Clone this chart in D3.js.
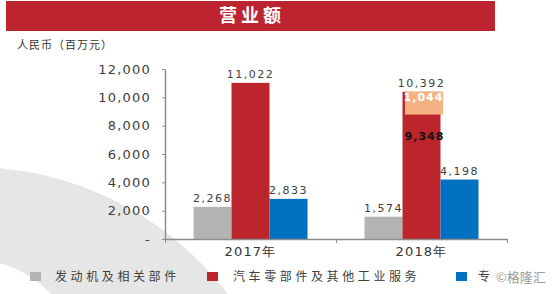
<!DOCTYPE html>
<html><head><meta charset="utf-8">
<script src="https://cdn.jsdelivr.net/npm/d3@7"></script>
<style>body{margin:0;background:#fff}svg{display:block}</style>
</head><body>
<script>
const categories = ["2017年", "2018年"];
const seriesNames = ["发动机及相关部件", "汽车零部件及其他工业服务", "专"];
const engineParts = [2268, 1574];
const autoParts = [11022, 10392];
const specialVehicles = [2833, 4198];
const autoParts2018Split = [9348, 1044];
const yTicks = [0, 2000, 4000, 6000, 8000, 10000, 12000];
const title = "营业额";
const unitLabel = "人民币（百万元）";
const watermark = "©格隆汇";
const colors = ["#b3b3b3", "#bd252d", "#0070c0"];
const overlayColor = "#f4b183";

const W = 554, H = 294;
const svg = d3.select("body").append("svg").attr("width", W).attr("height", H);
const numFont = "DejaVu Sans, Liberation Sans, sans-serif";
const cjkFont = "Noto Sans CJK SC, sans-serif";

// background crescent
const bg = d3.path();
bg.arc(-29, 490, 323, 0, 2 * Math.PI);
bg.moveTo(-30 + 111, 370);
bg.arc(-30, 370, 111, 0, 2 * Math.PI);
svg.append("path").attr("d", bg.toString()).attr("fill", "#e6e6e6").attr("fill-rule", "evenodd");

// title bar
svg.append("rect").attr("x", 6).attr("y", 1).attr("width", 489).attr("height", 30).attr("fill", "#bc2530");
svg.append("text").attr("x", 252).attr("y", 22).attr("text-anchor", "middle")
  .attr("fill", "#fff").attr("font-family", cjkFont).attr("font-weight", "bold")
  .attr("font-size", 18).attr("letter-spacing", 4).text(title);

svg.append("text").attr("x", 17).attr("y", 49).attr("fill", "#333")
  .attr("font-family", cjkFont).attr("font-size", 11).attr("letter-spacing", 1).text(unitLabel);

// scales
const x0 = d3.scaleBand().domain(categories).range([165, 507]).padding(0);
const bw = x0.bandwidth();
const x1 = d3.scaleBand().domain(seriesNames).range([bw / 6, bw * 5 / 6]).padding(0);
const y = d3.scaleLinear().domain([0, 12000]).range([239, 69]);

const series = [engineParts, autoParts, specialVehicles];
const fmt = d3.format(",");

// bars
series.forEach((vals, si) => {
  svg.append("g").selectAll("rect").data(vals).join("rect")
    .attr("x", (d, i) => x0(categories[i]) + x1(seriesNames[si]))
    .attr("y", d => y(d))
    .attr("width", x1.bandwidth())
    .attr("height", d => y(0) - y(d))
    .attr("fill", colors[si]);
  svg.append("g").selectAll("text").data(vals).join("text")
    .attr("x", (d, i) => x0(categories[i]) + x1(seriesNames[si]) + x1.bandwidth() / 2)
    .attr("y", d => y(d) - 5)
    .attr("text-anchor", "middle").attr("fill", "#404040")
    .attr("font-family", numFont).attr("font-size", 11).attr("letter-spacing", 1.5)
    .text(d => fmt(d));
});

// 2018 split overlay
const c18 = categories[1];
const bx = x0(c18) + x1(seriesNames[1]);
const total18 = autoParts[1];
svg.append("rect")
  .attr("x", bx + 2.5).attr("y", y(total18))
  .attr("width", x1.bandwidth())
  .attr("height", y(autoParts2018Split[0]) - y(total18) + 8)
  .attr("fill", overlayColor);
svg.append("text").attr("x", bx + x1.bandwidth() / 2 + 2).attr("y", y(total18) + 9)
  .attr("text-anchor", "middle").attr("fill", "#fff").attr("font-weight", "bold")
  .attr("font-family", numFont).attr("font-size", 11).attr("letter-spacing", 1)
  .text(fmt(autoParts2018Split[1]));
svg.append("text").attr("x", bx + x1.bandwidth() / 2 + 3).attr("y", y(autoParts2018Split[0]) + 33)
  .attr("text-anchor", "middle").attr("fill", "#111").attr("font-weight", "bold")
  .attr("font-family", numFont).attr("font-size", 11).attr("letter-spacing", 1)
  .text(fmt(autoParts2018Split[0]));

// y axis
const yAxis = svg.append("g").attr("transform", "translate(165,0)")
  .call(d3.axisLeft(y).tickValues(yTicks).tickSize(3).tickSizeOuter(0).tickPadding(11)
    .tickFormat(d => d === 0 ? "-" : fmt(d)));
yAxis.select(".domain").attr("stroke", "#8c8c8c").attr("stroke-width", 1.5);
yAxis.selectAll(".tick line").attr("stroke", "#8c8c8c");
yAxis.selectAll("text").attr("fill", "#404040").attr("font-family", numFont)
  .attr("font-size", 13).attr("letter-spacing", 1.2);

// x axis with ticks at category boundaries
const xb = d3.scaleLinear().domain([0, categories.length]).range([165, 507]);
const xAxis = svg.append("g").attr("transform", "translate(0,239)")
  .call(d3.axisBottom(xb).tickValues(d3.range(categories.length + 1)).tickSize(4).tickSizeOuter(0).tickFormat(""));
xAxis.select(".domain").attr("stroke", "#8c8c8c").attr("stroke-width", 1.5);
xAxis.selectAll(".tick line").attr("stroke", "#8c8c8c");

svg.append("g").selectAll("text").data(categories).join("text")
  .attr("x", d => x0(d) + bw / 2).attr("y", 256)
  .attr("text-anchor", "middle").attr("fill", "#333")
  .attr("font-family", numFont).attr("font-size", 13).attr("letter-spacing", 1.2)
  .text(d => d);

// legend
const legX = [30, 207, 456];
const legTX = [55, 233, 478];
const leg = svg.append("g");
seriesNames.forEach((n, i) => {
  leg.append("rect").attr("x", legX[i]).attr("y", 272).attr("width", 11).attr("height", 9).attr("fill", colors[i]);
  leg.append("text").attr("x", legTX[i]).attr("y", 281).attr("fill", "#404040")
    .attr("font-family", cjkFont).attr("font-size", 12).attr("letter-spacing", 3.6).text(n);
});

svg.append("text").attr("x", 496).attr("y", 282).attr("fill", "#9a9a9a")
  .attr("stroke", "#fff").attr("stroke-width", 3).attr("paint-order", "stroke")
  .attr("font-family", cjkFont).attr("font-size", 13).text(watermark);
</script>
</body></html>
